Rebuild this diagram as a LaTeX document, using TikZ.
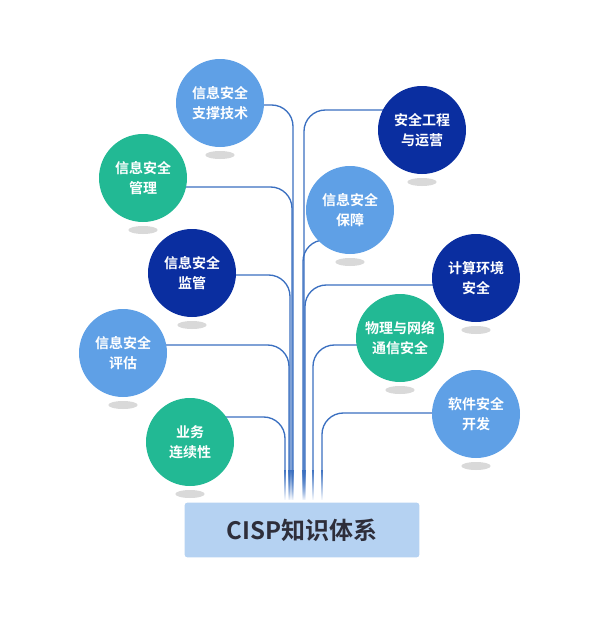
\documentclass[tikz,border=0pt]{standalone}
\usepackage{fontspec}
\newfontfamily\cjk{Noto Sans CJK SC}[BoldFont={Noto Sans CJK SC Bold}]
\usetikzlibrary{fadings}
\definecolor{lb}{HTML}{5FA0E6}
\definecolor{db}{HTML}{0A2EA0}
\definecolor{tl}{HTML}{22B994}
\definecolor{ln}{HTML}{3A6FC0}
\definecolor{bx}{HTML}{B5D2F2}
\definecolor{tx}{HTML}{2E2E3A}
\begin{document}
\begin{tikzpicture}[x=0.75pt,y=-0.75pt,
  bub/.style={circle,minimum size=66pt,inner sep=0pt,text=white,align=center,font=\cjk\bfseries\fontsize{10.5}{15}\selectfont},
  shad/.style={fill=black!15},
  br/.style={draw=ln,line width=1pt,rounded corners=16pt},
  fd/.style={draw=ln,line width=1pt,path fading=south}]
\useasboundingbox (0,0) rectangle (600,628);
% branches (behind circles)
\foreach \cx/\y/\xv in {220/105/293,143/187/292,192/275/290,123/345/289,190/417/285}{
  \draw[br] (\cx,\y) -- (\xv,\y) -- (\xv,470);
  \draw[fd] (\xv,470) -- (\xv,500);}
\foreach \cx/\y/\xv in {422/110/304,350/240/303,476/285/305,400/345/313,476/413/322}{
  \draw[br] (\cx,\y) -- (\xv,\y) -- (\xv,470);
  \draw[fd] (\xv,470) -- (\xv,500);}
% shadows
\foreach \x/\y in {220/103,422/130,143/178,350/210,192/273,476/278,400/338,123/353,476/414,190/442}
  \fill[shad] (\x,\y+52) ellipse (11pt and 3pt);
\node[bub,fill=lb] (c1) at (220,103) {信息安全\\支撑技术};
\node[bub,fill=db] (c2) at (422,130) {安全工程\\与运营};
\node[bub,fill=tl] (c3) at (143,178) {信息安全\\管理};
\node[bub,fill=lb] (c4) at (350,210) {信息安全\\保障};
\node[bub,fill=db] (c5) at (192,273) {信息安全\\监管};
\node[bub,fill=db] (c6) at (476,278) {计算环境\\安全};
\node[bub,fill=tl] (c7) at (400,338) {物理与网络\\通信安全};
\node[bub,fill=lb] (c8) at (123,353) {信息安全\\评估};
\node[bub,fill=lb] (c9) at (476,414) {软件安全\\开发};
\node[bub,fill=tl] (c10) at (190,442) {业务\\连续性};
\node[fill=bx,rounded corners=2pt,minimum width=176pt,minimum height=41pt,text=tx,font=\cjk\bfseries\fontsize{18}{20}\selectfont] (root) at (302,530) {CISP知识体系};
\end{tikzpicture}
\end{document}
